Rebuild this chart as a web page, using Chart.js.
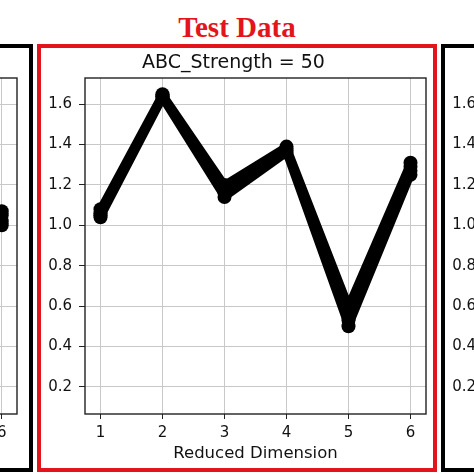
<!DOCTYPE html>
<html>
<head>
<meta charset="utf-8">
<script src="https://cdn.jsdelivr.net/npm/chart.js@4"></script>
<style>
  html, body { margin: 0; padding: 0; background: #fff; width: 474px; height: 474px; overflow: hidden; position: relative; }
  #heading { position: absolute; left: 0; top: 11px; width: 474px; line-height: 32px; text-align: center;
             font: bold 29px "Liberation Serif", serif; color: #e3141b; }
  .panel { position: absolute; top: 44px; width: 392px; height: 420px; border: 4px solid #000; background: #fff; }
  #left { left: -367px; }
  #main { left: 37px; border-color: #e3141b; }
  #right { left: 441px; }
  canvas { display: block; }
</style>
</head>
<body>
<div id="heading">Test Data</div>
<div class="panel" id="left"><canvas id="leftChart" width="392" height="420"></canvas></div>
<div class="panel" id="main"><canvas id="mainChart" width="392" height="420"></canvas></div>
<div class="panel" id="right"><canvas id="rightChart" width="392" height="420"></canvas></div>
<script>
// reduced dimension on x, values on y
const dims = [1, 2, 3, 4, 5, 6];
const yTicks = [0.2, 0.4, 0.6, 0.8, 1.0, 1.2, 1.4, 1.6];

// the thick black band is several runs drawn on top of each other
const runA = [1.08, 1.65, 1.20, 1.39, 0.60, 1.31];
const runB = [1.06, 1.64, 1.18, 1.38, 0.57, 1.29];
const runC = [1.05, 1.64, 1.16, 1.37, 0.53, 1.27];
const runD = [1.04, 1.63, 1.14, 1.36, 0.50, 1.25];

// neighbour panel on the left: only its last point (dim 6) is in view
const leftDims = [6];
const leftRunA = [1.07];
const leftRunB = [1.05];
const leftRunC = [1.02];
const leftRunD = [1.00];

const mainTitle = 'ABC_Strength = 50';
const xTitle = 'Reduced Dimension';

// box around the plot area, like matplotlib spines
const frame = {
  id: 'frame',
  afterDraw(chart) {
    const a = chart.chartArea;
    const ctx = chart.ctx;
    ctx.save();
    ctx.strokeStyle = '#222';
    ctx.lineWidth = 1.4;
    ctx.strokeRect(a.left, a.top, a.right - a.left, a.bottom - a.top);
    ctx.restore();
  }
};

const font = { family: '"DejaVu Sans", sans-serif', size: 15 };

function makeChart(id, xs, runs, title, padRight) {
  return new Chart(document.getElementById(id), {
    type: 'line',
    data: {
      datasets: runs.map(vals => ({
        data: vals.map((v, i) => ({ x: xs[i], y: v })),
        borderColor: '#000',
        backgroundColor: '#000',
        borderWidth: 8,
        borderJoinStyle: 'round',
        borderCapStyle: 'round',
        pointRadius: 7,
        pointBorderWidth: 0,
        tension: 0
      }))
    },
    options: {
      responsive: false,
      animation: false,
      devicePixelRatio: 1,
      layout: { padding: { left: 0, right: padRight, top: 0, bottom: 0 } },
      plugins: {
        legend: { display: false },
        tooltip: { enabled: false },
        title: {
          display: true, text: title, color: '#111',
          font: { family: font.family, size: 19, weight: 'normal' },
          padding: { top: 3.5, bottom: 3.7 }
        }
      },
      scales: {
        x: {
          type: 'linear', min: 0.75, max: 6.25,
          afterBuildTicks: s => { s.ticks = dims.map(v => ({ value: v })); },
          afterFit: s => { s.height = 54; },
          grid: { color: '#c8c8c8', tickColor: '#222', tickLength: 5 },
          border: { display: false },
          ticks: { color: '#111', font: font, padding: 5, autoSkip: false, maxRotation: 0 },
          title: { display: true, text: xTitle, color: '#111', font: { family: font.family, size: 16.5 }, padding: { top: 0, bottom: 4 } }
        },
        y: {
          min: 0.065, max: 1.73,
          afterBuildTicks: s => { s.ticks = yTicks.map(v => ({ value: v })); },
          afterFit: s => { s.width = 44; },
          grid: { color: '#c8c8c8', tickColor: '#222', tickLength: 6 },
          border: { display: false },
          ticks: { color: '#111', font: font, padding: 7, autoSkip: false, callback: v => v.toFixed(1) }
        }
      }
    },
    plugins: [frame]
  });
}

makeChart('mainChart', dims, [runA, runB, runC, runD], mainTitle, 7);
makeChart('leftChart', leftDims, [leftRunA, leftRunB, leftRunC, leftRunD], '', 12);
makeChart('rightChart', dims, [], '', 7);
</script>
</body>
</html>
